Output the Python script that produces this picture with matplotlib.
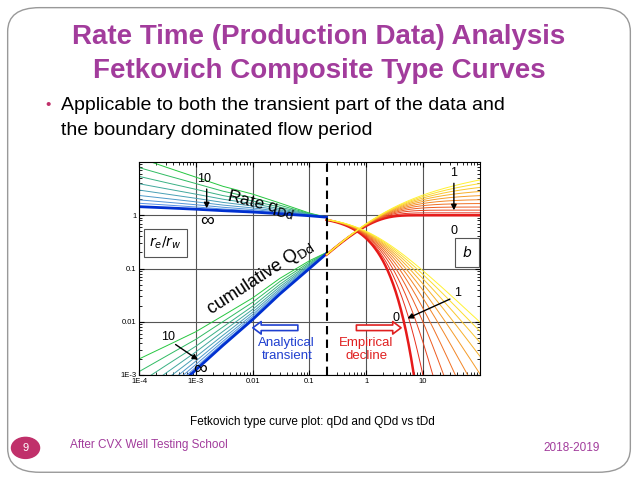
import numpy as np
import matplotlib.pyplot as plt
from matplotlib.patches import FancyBboxPatch, Circle

plt.rcParams['font.family'] = ['Liberation Sans', 'DejaVu Sans']

# ---- data ----
x_ticks = [1e-4, 1e-3, 1e-2, 1e-1, 1, 10]
x_labels = ['1E-4', '1E-3', '0.01', '0.1', '1', '10']
y_ticks = [1e-3, 1e-2, 1e-1, 1]
y_labels = ['1E-3', '0.01', '0.1', '1']

# transient rate curves (re/rw = 10 ... infinity)
t_tr = [1e-4, 3e-4, 1e-3, 3e-3, 1e-2, 3e-2, 1e-1, 2e-1]
q_inf = [1.45, 1.38, 1.30, 1.22, 1.15, 1.07, 0.98, 0.92]
q_top = [12.0, 8.0, 5.2, 3.5, 2.5, 1.7, 1.1, 0.92]
# cumulative transient curves
Q_inf = [1.3e-4, 3.9e-4, 1.25e-3, 3.6e-3, 1.1e-2, 3.3e-2, 0.10, 0.19]
Q_top = [2.0e-3, 3.5e-3, 6.5e-3, 1.3e-2, 2.8e-2, 6.5e-2, 0.14, 0.20]
# spread of the intermediate re/rw curves (0 = infinite, 1 = re/rw 10)
levels = [1.0, 0.8, 0.62, 0.47, 0.34, 0.23, 0.14, 0.07, 0.0]

# Arps decline exponents b, 0 ... 1
b_values = [0.0, 0.1, 0.2, 0.3, 0.4, 0.5, 0.6, 0.7, 0.8, 0.9, 1.0]

fig = plt.figure(figsize=(6.38, 4.78), dpi=100)

# slide frame
frame = FancyBboxPatch((0.012, 0.012), 0.976, 0.972, boxstyle='round,pad=0,rounding_size=0.05',
                       transform=fig.transFigure, fill=False, ec='#999999', lw=1.0)
fig.patches.append(frame)

purple = '#A23C9C'
fig.text(0.5, 0.922, 'Rate Time (Production Data) Analysis', ha='center', va='center',
         fontsize=20, fontweight='bold', color=purple)
fig.text(0.5, 0.852, 'Fetkovich Composite Type Curves', ha='center', va='center',
         fontsize=20, fontweight='bold', color=purple)
fig.text(0.075, 0.78, '•', ha='center', va='center', fontsize=11, color='#C0306A')
fig.text(0.095, 0.78, 'Applicable to both the transient part of the data and', ha='left',
         va='center', fontsize=14)
fig.text(0.095, 0.727, 'the boundary dominated flow period', ha='left', va='center', fontsize=14)

fig.text(0.49, 0.118, 'Fetkovich type curve plot: qDd and QDd vs tDd', ha='center',
         va='center', fontsize=8.5)
fig.patches.append(Circle((0.040, 0.063), 0.022, transform=fig.transFigure,
                          color='#C0306A'))
fig.text(0.040, 0.063, '9', ha='center', va='center', fontsize=8, color='white')
fig.text(0.11, 0.068, 'After CVX Well Testing School', ha='left', va='center',
         fontsize=8.5, color=purple)
fig.text(0.94, 0.063, '2018-2019', ha='right', va='center', fontsize=8.5, color=purple)

ax = fig.add_axes([0.218, 0.2155, 0.534, 0.4455])
ax.set_xscale('log')
ax.set_yscale('log')
ax.set_xlim(1e-4, 100)
ax.set_ylim(1e-3, 10)
ax.grid(True, which='major', color='#555555', lw=0.8)
ax.set_axisbelow(True)
ax.set_xticks(x_ticks)
ax.set_xticklabels(x_labels)
ax.set_yticks(y_ticks)
ax.set_yticklabels(y_labels)
ax.tick_params(which='both', direction='in', top=True, right=True, labelsize=5.5, pad=2)
ax.tick_params(which='minor', length=2)

# transient curves, green (re/rw 10) to blue (infinite)
lq_inf, lq_top = np.log10(q_inf), np.log10(q_top)
lQ_inf, lQ_top = np.log10(Q_inf), np.log10(Q_top)
for lv in levels:
    if lv == 0:
        col, lw = '#0030D0', 2.0
    else:
        col = tuple(np.array([0.15, 0.78, 0.25]) * lv + np.array([0.35, 0.55, 0.95]) * (1 - lv))
        lw = 0.7
    ax.plot(t_tr, 10 ** (lq_inf + lv * (lq_top - lq_inf)), color=col, lw=lw)
    ax.plot(t_tr, 10 ** (lQ_inf + lv * (lQ_top - lQ_inf)), color=col, lw=lw)

# depletion (Arps) curves, red (b=0) to yellow (b=1)
t = np.logspace(np.log10(0.2), 2, 300)
for b in b_values:
    col = (0.9 + 0.1 * b, 0.1 + 0.85 * b, 0.1 + 0.1 * b)
    lw = 1.8 if b == 0 else 0.7
    if b == 0:
        q = np.exp(-t)
        Q = 1 - np.exp(-t)
    elif b == 1:
        q = 1 / (1 + t)
        Q = np.log(1 + t)
    else:
        q = (1 + b * t) ** (-1 / b)
        Q = (1 - q ** (1 - b)) / (1 - b)
    ax.plot(t, q, color=col, lw=lw)
    ax.plot(t, Q, color=col, lw=lw)

ax.axvline(0.2, color='black', ls=(0, (4, 2.5)), lw=1.5)

# labels
ax.text(3.2e-3, 1.6, 'Rate q$_{\\rm Dd}$', fontsize=12.5, rotation=-14, ha='left', va='center')
ax.text(1.3e-3, 0.011, 'cumulative Q$_{\\rm Dd}$', fontsize=13, rotation=33, ha='left',
        va='bottom')
ax.text(1.5e-4, 0.3, '$r_e/r_w$', fontsize=10, va='center',
        bbox=dict(fc='white', ec='#555555', lw=0.8, pad=4))
ax.text(60, 0.2, '$b$', fontsize=10, va='center', ha='center',
        bbox=dict(fc='white', ec='#555555', lw=0.8, pad=5))
ax.text(1.4e-3, 4.2, '10', fontsize=9, ha='center')
ax.text(1.55e-3, 0.62, '∞', fontsize=14, ha='center')
ax.annotate('', xy=(1.55e-3, 1.2), xytext=(1.55e-3, 3.5),
            arrowprops=dict(arrowstyle='-|>', color='black', lw=1, mutation_scale=8))
ax.text(35, 5.5, '1', fontsize=9, ha='center')
ax.text(35, 0.45, '0', fontsize=9, ha='center')
ax.annotate('', xy=(35, 1.1), xytext=(35, 4.5),
            arrowprops=dict(arrowstyle='-|>', color='black', lw=1, mutation_scale=8))
ax.text(40, 0.03, '1', fontsize=9, ha='center')
ax.text(3.4, 0.0105, '0', fontsize=9, ha='center')
ax.annotate('', xy=(4.8, 0.011), xytext=(33, 0.028),
            arrowprops=dict(arrowstyle='-|>', color='black', lw=1, mutation_scale=8))
ax.text(3.3e-4, 0.0045, '10', fontsize=9, ha='center')
ax.text(1.2e-3, 0.00105, '∞', fontsize=14, ha='center')
ax.annotate('', xy=(1.2e-3, 1.8e-3), xytext=(4e-4, 4e-3),
            arrowprops=dict(arrowstyle='-|>', color='black', lw=1, mutation_scale=8))
ax.text(0.04, 0.003, 'Analytical\ntransient', fontsize=9.5, color='#2040D0', ha='center',
        va='center', linespacing=1.1)
ax.text(1.0, 0.003, 'Empirical\ndecline', fontsize=9.5, color='#E02020', ha='center',
        va='center', linespacing=1.1)
ax.annotate('', xy=(0.009, 0.0077), xytext=(0.07, 0.0077),
            arrowprops=dict(arrowstyle='simple,head_width=0.9,head_length=0.6,tail_width=0.4',
                            fc='white', ec='#2040D0', lw=1.2))
ax.annotate('', xy=(4.6, 0.0077), xytext=(0.6, 0.0077),
            arrowprops=dict(arrowstyle='simple,head_width=0.9,head_length=0.6,tail_width=0.4',
                            fc='white', ec='#E02020', lw=1.2))

fig.savefig('out.png', dpi=100)
